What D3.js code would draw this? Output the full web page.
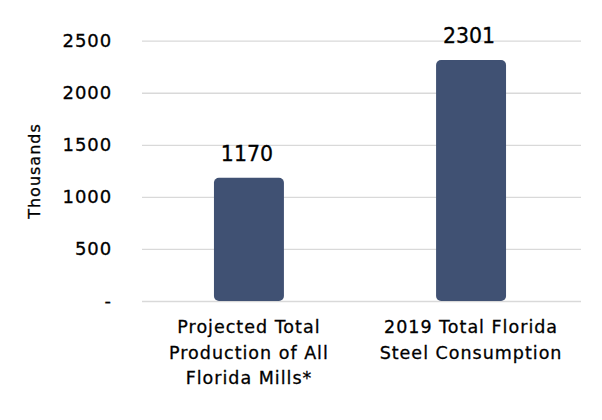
<!DOCTYPE html>
<html><head><meta charset="utf-8">
<script src="https://cdn.jsdelivr.net/npm/d3@7"></script>
<style>body{margin:0;background:#fff}svg{display:block}text{font-family:"DejaVu Sans",sans-serif;stroke:#000;stroke-width:0.3px}</style>
</head><body><svg id="c" width="602" height="420"></svg>
<script>
const categories = [["Projected Total","Production of All","Florida Mills*"],["2019 Total Florida","Steel Consumption"]];
const values = [1170, 2301];
const tickValues = [0, 500, 1000, 1500, 2000, 2500];
const tickLabels = ["-", "500", "1000", "1500", "2000", "2500"];

(function(){
const svg = d3.select("#c");
const mL = 142, mR = 581, mT = 40.7, mB = 301;
const x = d3.scaleBand().domain(d3.range(values.length)).range([mL, 578]).paddingInner(0.685).paddingOuter(0.324);
const y = d3.scaleLinear().domain([0, 2500]).range([mB, mT]);

const yAxis = d3.axisLeft(y).tickValues(tickValues).tickSize(-(mR-mL)).tickFormat((d,i)=>tickLabels[i]);
const g = svg.append("g").attr("transform", `translate(${mL},0)`).call(yAxis);
g.select(".domain").remove();
g.selectAll(".tick line").attr("stroke", "#d9d9d9").attr("stroke-width", 1.3);
g.selectAll(".tick text").attr("x", -30).attr("fill", "#000").style("font-size", "18px").style("letter-spacing","0.9px");

svg.selectAll("rect.bar").data(values).join("rect").attr("class","bar")
  .attr("x", (d,i)=>x(i)).attr("width", x.bandwidth())
  .attr("y", d=>y(d)-1.5).attr("height", d=>mB - y(d)+1.5)
  .attr("rx", 5).attr("fill", "#405173").style("stroke","none");

svg.selectAll("text.val").data(values).join("text").attr("class","val")
  .attr("x", (d,i)=>x(i)+x.bandwidth()/2 - 2).attr("y", d=>y(d)-18)
  .attr("text-anchor","middle").style("font-size","20.5px").attr("fill","#000")
  .text(d=>d);

const cat = svg.selectAll("text.cat").data(categories).join("text").attr("class","cat")
  .attr("text-anchor","middle").style("font-size","17.5px").style("letter-spacing","1px").attr("fill","#000");
cat.each(function(lines,i){
  d3.select(this).selectAll("tspan").data(lines).join("tspan")
    .attr("x", x(i)+x.bandwidth()/2).attr("y",(d,j)=>333+j*25.5).text(d=>d);
});

svg.append("text").attr("transform","translate(40,171) rotate(-90)")
  .attr("text-anchor","middle").style("font-size","16px").style("letter-spacing","1px").attr("fill","#000").text("Thousands");
})();
</script></body></html>
